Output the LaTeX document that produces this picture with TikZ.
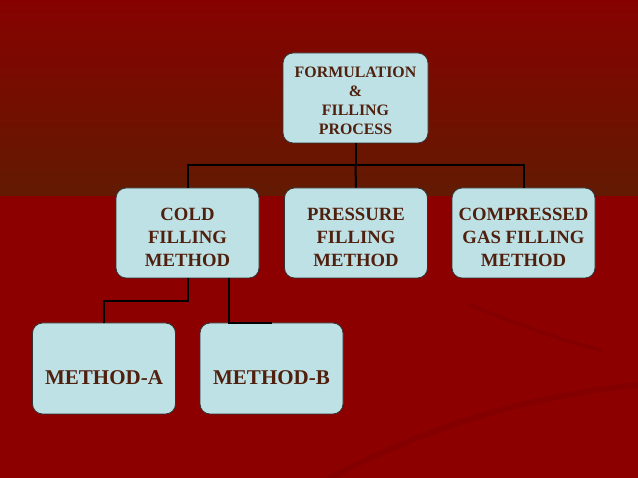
\documentclass[tikz,border=0pt]{standalone}
\usepackage{fontspec}
\setmainfont{Liberation Serif}
\usepackage{xcolor}
\definecolor{slidered}{RGB}{141, 0, 0}
\definecolor{bandtop}{RGB}{134, 2, 0}
\definecolor{bandbot}{RGB}{98, 26, 2}
\definecolor{boxblue}{RGB}{190, 225, 229}
\definecolor{textbrown}{RGB}{80, 32, 14}

\begin{document}
\begin{tikzpicture}[x=1pt, y=-1pt,
    orgbox/.style={draw=black!80, line width=0.8pt, fill=boxblue, rounded corners=10pt,
      minimum width=143pt, minimum height=90pt, align=center, inner sep=2pt,
      text=textbrown, font=\bfseries\fontsize{18.7}{23}\selectfont},
    leafbox/.style={orgbox, minimum height=91pt, text height=32pt, text depth=0pt,
      font=\bfseries\fontsize{21}{24}\selectfont},
    link/.style={draw=black, line width=2pt},
    swoosh/.style={draw=black, opacity=0.06, line width=6pt, line cap=round}]
    \useasboundingbox (0,0) rectangle (638,478);
    % background
    \fill[slidered] (0,0) rectangle (638,478);
    \shade[top color=bandtop, bottom color=bandbot] (0,0) rectangle (638,196);
    \draw[swoosh] (330,478) .. controls (440,420) and (540,395) .. (638,385);
    \draw[swoosh, line width=4pt] (470,305) .. controls (520,325) and (560,340) .. (600,350);
    % boxes
    \node[orgbox, minimum width=145pt, font=\bfseries\fontsize{15.9}{19}\selectfont]
      (top) at (355.5, 98) {\rule{0pt}{16pt}FORMULATION\\\&\\FILLING\\PROCESS};
    \node[orgbox] (cold) at (187.5, 233) {\rule{0pt}{21pt}COLD\\FILLING\\METHOD};
    \node[orgbox] (press) at (356, 233) {\rule{0pt}{21pt}PRESSURE\\FILLING\\METHOD};
    \node[orgbox] (comp) at (523.5, 233) {\rule{0pt}{21pt}COMPRESSED\\GAS FILLING\\METHOD};
    \node[leafbox] (ma) at (104, 368.5) {METHOD-A};
    \node[leafbox] (mb) at (271.5, 368.5) {METHOD-B};
    % connectors
    \coordinate (bus) at (355.5, 165);
    \coordinate (split) at (187.5, 301);
    \coordinate (tap) at (229, 278);
    \draw[link] (top.south) -- (bus);
    \draw[link] (cold.north) |- (bus) -| (comp.north);
    \draw[link] (bus) -- (press.north);
    \draw[link] (cold.south) -- (split) -| (ma.north);
    \draw[link] (tap) |- (mb.north);
  \end{tikzpicture}
\end{document}
